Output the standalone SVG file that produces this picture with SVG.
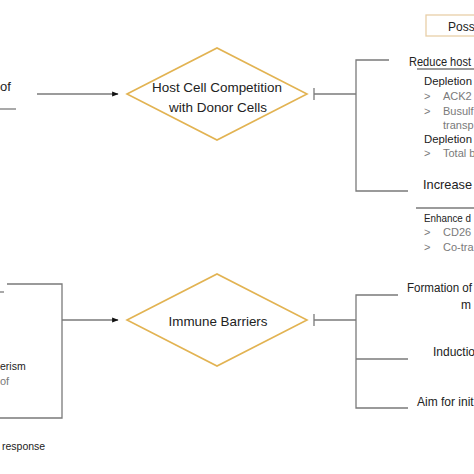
<svg xmlns="http://www.w3.org/2000/svg" width="474" height="474" viewBox="0 0 474 474">
<defs>
<style>
.ln{stroke:#7a7a7a;stroke-width:1.3;fill:none}
.dm{fill:#fff;stroke:#e2b352;stroke-width:1.6}
.t{font-family:"Liberation Sans",Arial,sans-serif;fill:#222}
.g{font-family:"Liberation Sans",Arial,sans-serif;fill:#7a7a7a}
</style>
<marker id="ah" viewBox="0 0 10 10" refX="9" refY="5" markerWidth="5" markerHeight="5" orient="auto"><path d="M0,1L10,5L0,9z" fill="#111"/></marker>
</defs>
<rect width="474" height="474" fill="#fff"/>
<g id="connectors">
<line class="ln" x1="37" y1="94" x2="118" y2="94" marker-end="url(#ah)"/>
<line class="ln" x1="314" y1="94" x2="356" y2="94"/>
<line class="ln" x1="314" y1="88" x2="314" y2="100"/>
<polyline class="ln" points="389,60 356,60 356,191 408,191"/>
<line class="ln" x1="62" y1="320" x2="118" y2="320" marker-end="url(#ah)"/>
<polyline class="ln" points="7,284 62,284 62,418 0,418"/>
<line class="ln" x1="314" y1="320" x2="356" y2="320"/>
<line class="ln" x1="314" y1="314" x2="314" y2="326"/>
<polyline class="ln" points="398,295 356,295 356,408 408,408"/>
<line class="ln" x1="356" y1="359" x2="408" y2="359"/>
</g>
<g id="left-top">
<text class="t" x="0" y="91" font-size="13">of</text>
<line class="ln" x1="0" y1="109" x2="16" y2="109"/>
</g>
<g id="left-bottom">
<line class="ln" x1="0" y1="292" x2="4" y2="292"/>
<text class="t" x="0" y="370" font-size="10.5">erism</text>
<text class="g" x="0" y="385" font-size="11">of</text>
<text class="t" x="2" y="450" font-size="10.5">response</text>
</g>
<g id="host-cell">
<polygon class="dm" points="127,94 217,48 307,94 217,140"/>
<text class="t" x="217" y="92" font-size="13.5" text-anchor="middle" textLength="130" lengthAdjust="spacingAndGlyphs">Host Cell Competition</text>
<text class="t" x="218" y="112" font-size="13.5" text-anchor="middle" textLength="98" lengthAdjust="spacingAndGlyphs">with Donor Cells</text>
</g>
<g id="immune">
<polygon class="dm" points="127,320 217,274 307,320 217,366"/>
<text class="t" x="218" y="326" font-size="13.5" text-anchor="middle" textLength="99" lengthAdjust="spacingAndGlyphs">Immune Barriers</text>
</g>
<g id="poss">
<rect x="426" y="15" width="60" height="21" fill="#fff" stroke="#e8cfa8" stroke-width="1.3"/>
<text class="t" x="448" y="31" font-size="12">Poss</text>
</g>
<g id="right-top">
<text class="t" x="409" y="66" font-size="12" textLength="62" lengthAdjust="spacingAndGlyphs">Reduce host</text>
<line class="ln" x1="417" y1="69" x2="474" y2="69"/>
<text class="t" x="424" y="85" font-size="11" textLength="48" lengthAdjust="spacingAndGlyphs">Depletion</text>
<text class="g" x="424" y="100" font-size="11">&gt;</text>
<text class="g" x="443" y="100" font-size="11">ACK2</text>
<text class="g" x="424" y="115" font-size="11">&gt;</text>
<text class="g" x="443" y="115" font-size="11">Busulf</text>
<text class="g" x="443" y="129" font-size="11">transp</text>
<text class="t" x="424" y="143" font-size="11" textLength="48" lengthAdjust="spacingAndGlyphs">Depletion</text>
<text class="g" x="424" y="157" font-size="11">&gt;</text>
<text class="g" x="443" y="157" font-size="11">Total b</text>
<text class="t" x="423" y="189" font-size="13" textLength="49" lengthAdjust="spacingAndGlyphs">Increase</text>
<line class="ln" x1="416" y1="208" x2="474" y2="208"/>
<text class="t" x="424" y="222" font-size="11" textLength="47" lengthAdjust="spacingAndGlyphs">Enhance d</text>
<text class="g" x="424" y="236" font-size="11">&gt;</text>
<text class="g" x="443" y="236" font-size="11">CD26</text>
<text class="g" x="424" y="251" font-size="11">&gt;</text>
<text class="g" x="443" y="251" font-size="11">Co-tra</text>
</g>
<g id="right-bottom">
<text class="t" x="407" y="292" font-size="12" textLength="65" lengthAdjust="spacingAndGlyphs">Formation of</text>
<text class="t" x="461" y="309" font-size="12">m</text>
<text class="t" x="433" y="356" font-size="12">Inductio</text>
<text class="t" x="417" y="406" font-size="12">Aim for init</text>
</g>
</svg>
